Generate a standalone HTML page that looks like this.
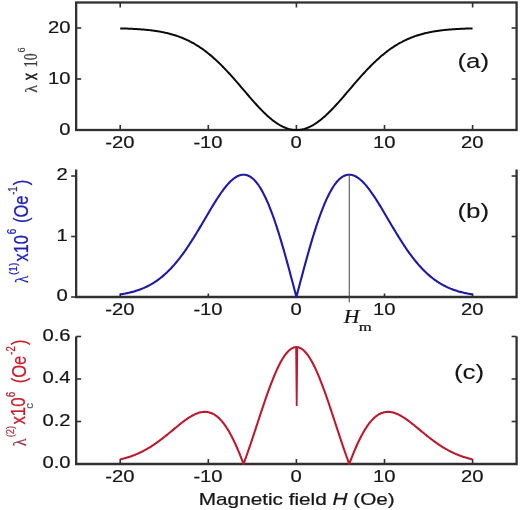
<!DOCTYPE html>
<html><head><meta charset="utf-8"><style>
html,body{margin:0;padding:0;background:#fff;}
svg{display:block;}
</style></head><body>
<svg width="520" height="510" viewBox="0 0 520 510">
<rect width="520" height="510" fill="#fff"/>
<rect x="76.15" y="2.5" width="440.45" height="127.5" fill="none" stroke="#303030" stroke-width="2.3"/>
<line x1="120.20" y1="130.00" x2="120.20" y2="125.00" stroke="#303030" stroke-width="1.6" />
<line x1="208.30" y1="130.00" x2="208.30" y2="125.00" stroke="#303030" stroke-width="1.6" />
<line x1="296.40" y1="130.00" x2="296.40" y2="125.00" stroke="#303030" stroke-width="1.6" />
<line x1="384.50" y1="130.00" x2="384.50" y2="125.00" stroke="#303030" stroke-width="1.6" />
<line x1="472.60" y1="130.00" x2="472.60" y2="125.00" stroke="#303030" stroke-width="1.6" />
<line x1="120.20" y1="2.50" x2="120.20" y2="7.50" stroke="#303030" stroke-width="1.6" />
<line x1="296.40" y1="2.50" x2="296.40" y2="7.50" stroke="#303030" stroke-width="1.6" />
<line x1="472.60" y1="2.50" x2="472.60" y2="7.50" stroke="#303030" stroke-width="1.6" />
<line x1="76.15" y1="130.00" x2="81.15" y2="130.00" stroke="#303030" stroke-width="1.6" />
<line x1="516.60" y1="130.00" x2="511.60" y2="130.00" stroke="#303030" stroke-width="1.6" />
<line x1="76.15" y1="79.00" x2="81.15" y2="79.00" stroke="#303030" stroke-width="1.6" />
<line x1="516.60" y1="79.00" x2="511.60" y2="79.00" stroke="#303030" stroke-width="1.6" />
<line x1="76.15" y1="28.00" x2="81.15" y2="28.00" stroke="#303030" stroke-width="1.6" />
<line x1="516.60" y1="28.00" x2="511.60" y2="28.00" stroke="#303030" stroke-width="1.6" />
<polyline points="76.15,169.6 76.15,297.0 516.6,297.0 516.6,169.6" fill="none" stroke="#303030" stroke-width="2.3"/>
<line x1="120.20" y1="297.00" x2="120.20" y2="293.50" stroke="#303030" stroke-width="1.6" />
<line x1="208.30" y1="297.00" x2="208.30" y2="293.50" stroke="#303030" stroke-width="1.6" />
<line x1="296.40" y1="297.00" x2="296.40" y2="293.50" stroke="#303030" stroke-width="1.6" />
<line x1="384.50" y1="297.00" x2="384.50" y2="293.50" stroke="#303030" stroke-width="1.6" />
<line x1="472.60" y1="297.00" x2="472.60" y2="293.50" stroke="#303030" stroke-width="1.6" />
<line x1="76.15" y1="297.00" x2="71.15" y2="297.00" stroke="#303030" stroke-width="1.6" />
<line x1="516.60" y1="297.00" x2="511.60" y2="297.00" stroke="#303030" stroke-width="1.6" />
<line x1="76.15" y1="236.51" x2="71.15" y2="236.51" stroke="#303030" stroke-width="1.6" />
<line x1="516.60" y1="236.51" x2="511.60" y2="236.51" stroke="#303030" stroke-width="1.6" />
<line x1="76.15" y1="176.01" x2="71.15" y2="176.01" stroke="#303030" stroke-width="1.6" />
<line x1="516.60" y1="176.01" x2="511.60" y2="176.01" stroke="#303030" stroke-width="1.6" />
<polyline points="76.15,336.5 76.15,464.0 516.6,464.0 516.6,336.5" fill="none" stroke="#303030" stroke-width="2.3"/>
<line x1="120.20" y1="464.00" x2="120.20" y2="459.00" stroke="#303030" stroke-width="1.6" />
<line x1="208.30" y1="464.00" x2="208.30" y2="459.00" stroke="#303030" stroke-width="1.6" />
<line x1="296.40" y1="464.00" x2="296.40" y2="459.00" stroke="#303030" stroke-width="1.6" />
<line x1="384.50" y1="464.00" x2="384.50" y2="459.00" stroke="#303030" stroke-width="1.6" />
<line x1="472.60" y1="464.00" x2="472.60" y2="459.00" stroke="#303030" stroke-width="1.6" />
<line x1="76.15" y1="464.00" x2="81.15" y2="464.00" stroke="#303030" stroke-width="1.6" />
<line x1="516.60" y1="464.00" x2="511.60" y2="464.00" stroke="#303030" stroke-width="1.6" />
<line x1="76.15" y1="421.50" x2="81.15" y2="421.50" stroke="#303030" stroke-width="1.6" />
<line x1="516.60" y1="421.50" x2="511.60" y2="421.50" stroke="#303030" stroke-width="1.6" />
<line x1="76.15" y1="379.00" x2="81.15" y2="379.00" stroke="#303030" stroke-width="1.6" />
<line x1="516.60" y1="379.00" x2="511.60" y2="379.00" stroke="#303030" stroke-width="1.6" />
<line x1="76.15" y1="336.50" x2="81.15" y2="336.50" stroke="#303030" stroke-width="1.6" />
<line x1="516.60" y1="336.50" x2="511.60" y2="336.50" stroke="#303030" stroke-width="1.6" />
<polyline points="120.20,28.39 121.08,28.42 121.96,28.44 122.84,28.47 123.72,28.49 124.60,28.52 125.49,28.55 126.37,28.58 127.25,28.61 128.13,28.64 129.01,28.68 129.89,28.71 130.77,28.75 131.65,28.79 132.53,28.84 133.41,28.88 134.30,28.93 135.18,28.97 136.06,29.02 136.94,29.08 137.82,29.13 138.70,29.19 139.58,29.25 140.46,29.31 141.34,29.38 142.22,29.45 143.11,29.52 143.99,29.60 144.87,29.68 145.75,29.76 146.63,29.84 147.51,29.93 148.39,30.02 149.27,30.12 150.15,30.22 151.03,30.33 151.92,30.43 152.80,30.55 153.68,30.66 154.56,30.79 155.44,30.91 156.32,31.05 157.20,31.18 158.08,31.33 158.96,31.47 159.84,31.63 160.73,31.79 161.61,31.95 162.49,32.12 163.37,32.30 164.25,32.48 165.13,32.67 166.01,32.87 166.89,33.07 167.77,33.28 168.65,33.50 169.54,33.73 170.42,33.96 171.30,34.20 172.18,34.45 173.06,34.70 173.94,34.97 174.82,35.24 175.70,35.52 176.58,35.82 177.46,36.12 178.35,36.42 179.23,36.74 180.11,37.07 180.99,37.41 181.87,37.75 182.75,38.11 183.63,38.48 184.51,38.86 185.39,39.25 186.27,39.64 187.16,40.05 188.04,40.47 188.92,40.91 189.80,41.35 190.68,41.80 191.56,42.27 192.44,42.75 193.32,43.24 194.20,43.74 195.08,44.25 195.97,44.78 196.85,45.31 197.73,45.86 198.61,46.43 199.49,47.00 200.37,47.59 201.25,48.19 202.13,48.80 203.01,49.42 203.89,50.06 204.78,50.71 205.66,51.37 206.54,52.05 207.42,52.73 208.30,53.43 209.18,54.15 210.06,54.87 210.94,55.61 211.82,56.36 212.70,57.12 213.59,57.90 214.47,58.68 215.35,59.48 216.23,60.29 217.11,61.11 217.99,61.95 218.87,62.79 219.75,63.65 220.63,64.52 221.51,65.39 222.40,66.28 223.28,67.18 224.16,68.09 225.04,69.01 225.92,69.93 226.80,70.87 227.68,71.81 228.56,72.77 229.44,73.73 230.32,74.70 231.21,75.68 232.09,76.66 232.97,77.65 233.85,78.64 234.73,79.65 235.61,80.65 236.49,81.66 237.37,82.68 238.25,83.70 239.13,84.72 240.02,85.75 240.90,86.78 241.78,87.80 242.66,88.84 243.54,89.87 244.42,90.90 245.30,91.93 246.18,92.96 247.06,93.98 247.94,95.01 248.83,96.03 249.71,97.05 250.59,98.06 251.47,99.07 252.35,100.08 253.23,101.08 254.11,102.07 254.99,103.05 255.87,104.03 256.75,104.99 257.64,105.95 258.52,106.90 259.40,107.84 260.28,108.76 261.16,109.68 262.04,110.58 262.92,111.46 263.80,112.34 264.68,113.20 265.56,114.04 266.45,114.87 267.33,115.68 268.21,116.48 269.09,117.26 269.97,118.01 270.85,118.76 271.73,119.48 272.61,120.18 273.49,120.86 274.38,121.52 275.26,122.16 276.14,122.77 277.02,123.37 277.90,123.94 278.78,124.49 279.66,125.01 280.54,125.51 281.42,125.99 282.30,126.44 283.19,126.86 284.07,127.26 284.95,127.63 285.83,127.98 286.71,128.30 287.59,128.59 288.47,128.86 289.35,129.10 290.23,129.31 291.11,129.49 292.00,129.65 292.88,129.77 293.76,129.87 294.64,129.94 295.52,129.99 296.40,130.00 297.28,129.99 298.16,129.94 299.04,129.87 299.92,129.77 300.80,129.65 301.69,129.49 302.57,129.31 303.45,129.10 304.33,128.86 305.21,128.59 306.09,128.30 306.97,127.98 307.85,127.63 308.73,127.26 309.61,126.86 310.50,126.44 311.38,125.99 312.26,125.51 313.14,125.01 314.02,124.49 314.90,123.94 315.78,123.37 316.66,122.77 317.54,122.16 318.42,121.52 319.31,120.86 320.19,120.18 321.07,119.48 321.95,118.76 322.83,118.01 323.71,117.26 324.59,116.48 325.47,115.68 326.35,114.87 327.23,114.04 328.12,113.20 329.00,112.34 329.88,111.46 330.76,110.58 331.64,109.68 332.52,108.76 333.40,107.84 334.28,106.90 335.16,105.95 336.04,104.99 336.93,104.03 337.81,103.05 338.69,102.07 339.57,101.08 340.45,100.08 341.33,99.07 342.21,98.06 343.09,97.05 343.97,96.03 344.85,95.01 345.74,93.98 346.62,92.96 347.50,91.93 348.38,90.90 349.26,89.87 350.14,88.84 351.02,87.80 351.90,86.78 352.78,85.75 353.66,84.72 354.55,83.70 355.43,82.68 356.31,81.66 357.19,80.65 358.07,79.65 358.95,78.64 359.83,77.65 360.71,76.66 361.59,75.68 362.47,74.70 363.36,73.73 364.24,72.77 365.12,71.81 366.00,70.87 366.88,69.93 367.76,69.01 368.64,68.09 369.52,67.18 370.40,66.28 371.28,65.39 372.17,64.52 373.05,63.65 373.93,62.79 374.81,61.95 375.69,61.11 376.57,60.29 377.45,59.48 378.33,58.68 379.21,57.90 380.09,57.12 380.98,56.36 381.86,55.61 382.74,54.87 383.62,54.15 384.50,53.43 385.38,52.73 386.26,52.05 387.14,51.37 388.02,50.71 388.90,50.06 389.79,49.42 390.67,48.80 391.55,48.19 392.43,47.59 393.31,47.00 394.19,46.43 395.07,45.86 395.95,45.31 396.83,44.78 397.71,44.25 398.60,43.74 399.48,43.24 400.36,42.75 401.24,42.27 402.12,41.80 403.00,41.35 403.88,40.91 404.76,40.47 405.64,40.05 406.52,39.64 407.41,39.25 408.29,38.86 409.17,38.48 410.05,38.11 410.93,37.75 411.81,37.41 412.69,37.07 413.57,36.74 414.45,36.42 415.33,36.12 416.22,35.82 417.10,35.52 417.98,35.24 418.86,34.97 419.74,34.70 420.62,34.45 421.50,34.20 422.38,33.96 423.26,33.73 424.14,33.50 425.03,33.28 425.91,33.07 426.79,32.87 427.67,32.67 428.55,32.48 429.43,32.30 430.31,32.12 431.19,31.95 432.07,31.79 432.95,31.63 433.84,31.47 434.72,31.33 435.60,31.18 436.48,31.05 437.36,30.91 438.24,30.79 439.12,30.66 440.00,30.55 440.88,30.43 441.76,30.33 442.65,30.22 443.53,30.12 444.41,30.02 445.29,29.93 446.17,29.84 447.05,29.76 447.93,29.68 448.81,29.60 449.69,29.52 450.57,29.45 451.46,29.38 452.34,29.31 453.22,29.25 454.10,29.19 454.98,29.13 455.86,29.08 456.74,29.02 457.62,28.97 458.50,28.93 459.38,28.88 460.27,28.84 461.15,28.79 462.03,28.75 462.91,28.71 463.79,28.68 464.67,28.64 465.55,28.61 466.43,28.58 467.31,28.55 468.19,28.52 469.08,28.49 469.96,28.47 470.84,28.44 471.72,28.42 472.60,28.39" fill="none" stroke="#0a0a0a" stroke-width="2" stroke-linejoin="round"/>
<polyline points="120.20,294.40 121.08,294.27 121.96,294.13 122.84,293.98 123.72,293.83 124.60,293.67 125.49,293.50 126.37,293.33 127.25,293.14 128.13,292.95 129.01,292.76 129.89,292.55 130.77,292.34 131.65,292.11 132.53,291.88 133.41,291.64 134.30,291.39 135.18,291.13 136.06,290.86 136.94,290.57 137.82,290.28 138.70,289.98 139.58,289.66 140.46,289.33 141.34,288.99 142.22,288.64 143.11,288.27 143.99,287.90 144.87,287.50 145.75,287.10 146.63,286.68 147.51,286.25 148.39,285.80 149.27,285.33 150.15,284.85 151.03,284.36 151.92,283.85 152.80,283.32 153.68,282.78 154.56,282.22 155.44,281.64 156.32,281.04 157.20,280.43 158.08,279.80 158.96,279.15 159.84,278.48 160.73,277.79 161.61,277.09 162.49,276.36 163.37,275.62 164.25,274.85 165.13,274.07 166.01,273.26 166.89,272.43 167.77,271.59 168.65,270.72 169.54,269.83 170.42,268.93 171.30,268.00 172.18,267.05 173.06,266.07 173.94,265.08 174.82,264.07 175.70,263.03 176.58,261.98 177.46,260.90 178.35,259.81 179.23,258.69 180.11,257.55 180.99,256.39 181.87,255.22 182.75,254.02 183.63,252.80 184.51,251.57 185.39,250.31 186.27,249.04 187.16,247.75 188.04,246.44 188.92,245.12 189.80,243.78 190.68,242.42 191.56,241.05 192.44,239.66 193.32,238.26 194.20,236.85 195.08,235.42 195.97,233.99 196.85,232.54 197.73,231.08 198.61,229.61 199.49,228.14 200.37,226.66 201.25,225.17 202.13,223.68 203.01,222.18 203.89,220.68 204.78,219.18 205.66,217.69 206.54,216.19 207.42,214.69 208.30,213.20 209.18,211.71 210.06,210.23 210.94,208.76 211.82,207.30 212.70,205.84 213.59,204.40 214.47,202.98 215.35,201.57 216.23,200.18 217.11,198.80 217.99,197.45 218.87,196.12 219.75,194.81 220.63,193.53 221.51,192.27 222.40,191.05 223.28,189.85 224.16,188.69 225.04,187.56 225.92,186.47 226.80,185.41 227.68,184.40 228.56,183.42 229.44,182.49 230.32,181.60 231.21,180.76 232.09,179.96 232.97,179.22 233.85,178.52 234.73,177.88 235.61,177.30 236.49,176.76 237.37,176.29 238.25,175.87 239.13,175.52 240.02,175.23 240.90,175.00 241.78,174.83 242.66,174.73 243.54,174.70 244.42,174.73 245.30,174.83 246.18,175.01 247.06,175.25 247.94,175.57 248.83,175.96 249.71,176.42 250.59,176.96 251.47,177.57 252.35,178.26 253.23,179.02 254.11,179.86 254.99,180.78 255.87,181.77 256.75,182.84 257.64,183.99 258.52,185.22 259.40,186.52 260.28,187.90 261.16,189.36 262.04,190.89 262.92,192.50 263.80,194.18 264.68,195.94 265.56,197.78 266.45,199.68 267.33,201.66 268.21,203.71 269.09,205.83 269.97,208.02 270.85,210.28 271.73,212.61 272.61,215.00 273.49,217.45 274.38,219.97 275.26,222.54 276.14,225.18 277.02,227.87 277.90,230.62 278.78,233.42 279.66,236.27 280.54,239.17 281.42,242.11 282.30,245.11 283.19,248.14 284.07,251.21 284.95,254.32 285.83,257.47 286.71,260.65 287.59,263.86 288.47,267.09 289.35,270.35 290.23,273.63 291.11,276.94 292.00,280.25 292.88,283.59 293.76,286.93 294.64,290.28 295.52,293.64 296.40,297.00 297.28,293.64 298.16,290.28 299.04,286.93 299.92,283.59 300.80,280.25 301.69,276.94 302.57,273.63 303.45,270.35 304.33,267.09 305.21,263.86 306.09,260.65 306.97,257.47 307.85,254.32 308.73,251.21 309.61,248.14 310.50,245.11 311.38,242.11 312.26,239.17 313.14,236.27 314.02,233.42 314.90,230.62 315.78,227.87 316.66,225.18 317.54,222.54 318.42,219.97 319.31,217.45 320.19,215.00 321.07,212.61 321.95,210.28 322.83,208.02 323.71,205.83 324.59,203.71 325.47,201.66 326.35,199.68 327.23,197.78 328.12,195.94 329.00,194.18 329.88,192.50 330.76,190.89 331.64,189.36 332.52,187.90 333.40,186.52 334.28,185.22 335.16,183.99 336.04,182.84 336.93,181.77 337.81,180.78 338.69,179.86 339.57,179.02 340.45,178.26 341.33,177.57 342.21,176.96 343.09,176.42 343.97,175.96 344.85,175.57 345.74,175.25 346.62,175.01 347.50,174.83 348.38,174.73 349.26,174.70 350.14,174.73 351.02,174.83 351.90,175.00 352.78,175.23 353.66,175.52 354.55,175.87 355.43,176.29 356.31,176.76 357.19,177.30 358.07,177.88 358.95,178.52 359.83,179.22 360.71,179.96 361.59,180.76 362.47,181.60 363.36,182.49 364.24,183.42 365.12,184.40 366.00,185.41 366.88,186.47 367.76,187.56 368.64,188.69 369.52,189.85 370.40,191.05 371.28,192.27 372.17,193.53 373.05,194.81 373.93,196.12 374.81,197.45 375.69,198.80 376.57,200.18 377.45,201.57 378.33,202.98 379.21,204.40 380.09,205.84 380.98,207.30 381.86,208.76 382.74,210.23 383.62,211.71 384.50,213.20 385.38,214.69 386.26,216.19 387.14,217.69 388.02,219.18 388.90,220.68 389.79,222.18 390.67,223.68 391.55,225.17 392.43,226.66 393.31,228.14 394.19,229.61 395.07,231.08 395.95,232.54 396.83,233.99 397.71,235.42 398.60,236.85 399.48,238.26 400.36,239.66 401.24,241.05 402.12,242.42 403.00,243.78 403.88,245.12 404.76,246.44 405.64,247.75 406.52,249.04 407.41,250.31 408.29,251.57 409.17,252.80 410.05,254.02 410.93,255.22 411.81,256.39 412.69,257.55 413.57,258.69 414.45,259.81 415.33,260.90 416.22,261.98 417.10,263.03 417.98,264.07 418.86,265.08 419.74,266.07 420.62,267.05 421.50,268.00 422.38,268.93 423.26,269.83 424.14,270.72 425.03,271.59 425.91,272.43 426.79,273.26 427.67,274.07 428.55,274.85 429.43,275.62 430.31,276.36 431.19,277.09 432.07,277.79 432.95,278.48 433.84,279.15 434.72,279.80 435.60,280.43 436.48,281.04 437.36,281.64 438.24,282.22 439.12,282.78 440.00,283.32 440.88,283.85 441.76,284.36 442.65,284.85 443.53,285.33 444.41,285.80 445.29,286.25 446.17,286.68 447.05,287.10 447.93,287.50 448.81,287.90 449.69,288.27 450.57,288.64 451.46,288.99 452.34,289.33 453.22,289.66 454.10,289.98 454.98,290.28 455.86,290.57 456.74,290.86 457.62,291.13 458.50,291.39 459.38,291.64 460.27,291.88 461.15,292.11 462.03,292.34 462.91,292.55 463.79,292.76 464.67,292.95 465.55,293.14 466.43,293.33 467.31,293.50 468.19,293.67 469.08,293.83 469.96,293.98 470.84,294.13 471.72,294.27 472.60,294.40" fill="none" stroke="#1e1aa4" stroke-width="2.1" stroke-linejoin="round"/>
<polyline points="120.20,459.43 121.08,459.22 121.96,459.01 122.84,458.79 123.72,458.56 124.60,458.32 125.49,458.07 126.37,457.81 127.25,457.55 128.13,457.27 129.01,456.99 129.89,456.70 130.77,456.39 131.65,456.08 132.53,455.76 133.41,455.43 134.30,455.09 135.18,454.73 136.06,454.37 136.94,454.00 137.82,453.61 138.70,453.22 139.58,452.81 140.46,452.40 141.34,451.97 142.22,451.53 143.11,451.08 143.99,450.62 144.87,450.14 145.75,449.66 146.63,449.16 147.51,448.66 148.39,448.14 149.27,447.61 150.15,447.07 151.03,446.52 151.92,445.95 152.80,445.38 153.68,444.80 154.56,444.20 155.44,443.60 156.32,442.98 157.20,442.36 158.08,441.72 158.96,441.08 159.84,440.43 160.73,439.77 161.61,439.10 162.49,438.42 163.37,437.73 164.25,437.04 165.13,436.34 166.01,435.64 166.89,434.93 167.77,434.21 168.65,433.49 169.54,432.77 170.42,432.05 171.30,431.32 172.18,430.59 173.06,429.86 173.94,429.13 174.82,428.40 175.70,427.67 176.58,426.95 177.46,426.22 178.35,425.51 179.23,424.80 180.11,424.09 180.99,423.39 181.87,422.71 182.75,422.03 183.63,421.36 184.51,420.70 185.39,420.06 186.27,419.43 187.16,418.82 188.04,418.22 188.92,417.64 189.80,417.09 190.68,416.55 191.56,416.03 192.44,415.54 193.32,415.07 194.20,414.63 195.08,414.21 195.97,413.83 196.85,413.47 197.73,413.15 198.61,412.86 199.49,412.60 200.37,412.38 201.25,412.19 202.13,412.04 203.01,411.94 203.89,411.87 204.78,411.84 205.66,411.86 206.54,411.93 207.42,412.03 208.30,412.19 209.18,412.39 210.06,412.65 210.94,412.95 211.82,413.31 212.70,413.71 213.59,414.18 214.47,414.69 215.35,415.26 216.23,415.89 217.11,416.57 217.99,417.31 218.87,418.11 219.75,418.97 220.63,419.88 221.51,420.86 222.40,421.89 223.28,422.98 224.16,424.14 225.04,425.35 225.92,426.63 226.80,427.96 227.68,429.36 228.56,430.81 229.44,432.33 230.32,433.90 231.21,435.53 232.09,437.22 232.97,438.97 233.85,440.77 234.73,442.63 235.61,444.54 236.49,446.51 237.37,448.53 238.25,450.60 239.13,452.72 240.02,454.88 240.90,457.10 241.78,459.36 242.66,461.66 243.54,464.00 244.42,461.62 245.30,459.20 246.18,456.74 247.06,454.26 247.94,451.74 248.83,449.19 249.71,446.62 250.59,444.02 251.47,441.40 252.35,438.76 253.23,436.11 254.11,433.45 254.99,430.77 255.87,428.09 256.75,425.40 257.64,422.71 258.52,420.03 259.40,417.35 260.28,414.67 261.16,412.01 262.04,409.36 262.92,406.72 263.80,404.11 264.68,401.52 265.56,398.96 266.45,396.42 267.33,393.92 268.21,391.46 269.09,389.03 269.97,386.64 270.85,384.30 271.73,382.01 272.61,379.77 273.49,377.58 274.38,375.45 275.26,373.37 276.14,371.36 277.02,369.41 277.90,367.54 278.78,365.73 279.66,363.99 280.54,362.32 281.42,360.74 282.30,359.23 283.19,357.80 284.07,356.46 284.95,355.20 285.83,354.02 286.71,352.94 287.59,351.94 288.47,351.03 289.35,350.22 290.23,349.50 291.11,348.87 292.00,348.34 292.88,347.90 293.76,347.56 294.64,347.32 295.52,347.17 296.40,347.12 297.28,347.17 298.16,347.32 299.04,347.56 299.92,347.90 300.80,348.34 301.69,348.87 302.57,349.50 303.45,350.22 304.33,351.03 305.21,351.94 306.09,352.94 306.97,354.02 307.85,355.20 308.73,356.46 309.61,357.80 310.50,359.23 311.38,360.74 312.26,362.32 313.14,363.99 314.02,365.73 314.90,367.54 315.78,369.41 316.66,371.36 317.54,373.37 318.42,375.45 319.31,377.58 320.19,379.77 321.07,382.01 321.95,384.30 322.83,386.64 323.71,389.03 324.59,391.46 325.47,393.92 326.35,396.42 327.23,398.96 328.12,401.52 329.00,404.11 329.88,406.72 330.76,409.36 331.64,412.01 332.52,414.67 333.40,417.35 334.28,420.03 335.16,422.71 336.04,425.40 336.93,428.09 337.81,430.77 338.69,433.45 339.57,436.11 340.45,438.76 341.33,441.40 342.21,444.02 343.09,446.62 343.97,449.19 344.85,451.74 345.74,454.26 346.62,456.74 347.50,459.20 348.38,461.62 349.26,464.00 350.14,461.66 351.02,459.36 351.90,457.10 352.78,454.88 353.66,452.72 354.55,450.60 355.43,448.53 356.31,446.51 357.19,444.54 358.07,442.63 358.95,440.77 359.83,438.97 360.71,437.22 361.59,435.53 362.47,433.90 363.36,432.33 364.24,430.81 365.12,429.36 366.00,427.96 366.88,426.63 367.76,425.35 368.64,424.14 369.52,422.98 370.40,421.89 371.28,420.86 372.17,419.88 373.05,418.97 373.93,418.11 374.81,417.31 375.69,416.57 376.57,415.89 377.45,415.26 378.33,414.69 379.21,414.18 380.09,413.71 380.98,413.31 381.86,412.95 382.74,412.65 383.62,412.39 384.50,412.19 385.38,412.03 386.26,411.93 387.14,411.86 388.02,411.84 388.90,411.87 389.79,411.94 390.67,412.04 391.55,412.19 392.43,412.38 393.31,412.60 394.19,412.86 395.07,413.15 395.95,413.47 396.83,413.83 397.71,414.21 398.60,414.63 399.48,415.07 400.36,415.54 401.24,416.03 402.12,416.55 403.00,417.09 403.88,417.64 404.76,418.22 405.64,418.82 406.52,419.43 407.41,420.06 408.29,420.70 409.17,421.36 410.05,422.03 410.93,422.71 411.81,423.39 412.69,424.09 413.57,424.80 414.45,425.51 415.33,426.22 416.22,426.95 417.10,427.67 417.98,428.40 418.86,429.13 419.74,429.86 420.62,430.59 421.50,431.32 422.38,432.05 423.26,432.77 424.14,433.49 425.03,434.21 425.91,434.93 426.79,435.64 427.67,436.34 428.55,437.04 429.43,437.73 430.31,438.42 431.19,439.10 432.07,439.77 432.95,440.43 433.84,441.08 434.72,441.72 435.60,442.36 436.48,442.98 437.36,443.60 438.24,444.20 439.12,444.80 440.00,445.38 440.88,445.95 441.76,446.52 442.65,447.07 443.53,447.61 444.41,448.14 445.29,448.66 446.17,449.16 447.05,449.66 447.93,450.14 448.81,450.62 449.69,451.08 450.57,451.53 451.46,451.97 452.34,452.40 453.22,452.81 454.10,453.22 454.98,453.61 455.86,454.00 456.74,454.37 457.62,454.73 458.50,455.09 459.38,455.43 460.27,455.76 461.15,456.08 462.03,456.39 462.91,456.70 463.79,456.99 464.67,457.27 465.55,457.55 466.43,457.81 467.31,458.07 468.19,458.32 469.08,458.56 469.96,458.79 470.84,459.01 471.72,459.22 472.60,459.43" fill="none" stroke="#bb1b30" stroke-width="2.1" stroke-linejoin="round"/>
<line x1="349.26" y1="174.70" x2="349.26" y2="302.40" stroke="#444" stroke-width="1" />
<polygon points="295.20,347.12 298.20,347.12 297.60,405.20 296.70,406.20 295.80,405.20" fill="#bb1b30"/>
<text transform="translate(119.90,148.00) scale(1.19,1)" font-family="'Liberation Sans', sans-serif" font-size="17.0" text-anchor="middle" fill="#151515" stroke="#151515" stroke-width="0.22" >-20</text>
<text transform="translate(208.00,148.00) scale(1.19,1)" font-family="'Liberation Sans', sans-serif" font-size="17.0" text-anchor="middle" fill="#151515" stroke="#151515" stroke-width="0.22" >-10</text>
<text transform="translate(296.10,148.00) scale(1.19,1)" font-family="'Liberation Sans', sans-serif" font-size="17.0" text-anchor="middle" fill="#151515" stroke="#151515" stroke-width="0.22" >0</text>
<text transform="translate(384.20,148.00) scale(1.19,1)" font-family="'Liberation Sans', sans-serif" font-size="17.0" text-anchor="middle" fill="#151515" stroke="#151515" stroke-width="0.22" >10</text>
<text transform="translate(472.30,148.00) scale(1.19,1)" font-family="'Liberation Sans', sans-serif" font-size="17.0" text-anchor="middle" fill="#151515" stroke="#151515" stroke-width="0.22" >20</text>
<text transform="translate(119.90,315.00) scale(1.19,1)" font-family="'Liberation Sans', sans-serif" font-size="17.0" text-anchor="middle" fill="#151515" stroke="#151515" stroke-width="0.22" >-20</text>
<text transform="translate(208.00,315.00) scale(1.19,1)" font-family="'Liberation Sans', sans-serif" font-size="17.0" text-anchor="middle" fill="#151515" stroke="#151515" stroke-width="0.22" >-10</text>
<text transform="translate(296.10,315.00) scale(1.19,1)" font-family="'Liberation Sans', sans-serif" font-size="17.0" text-anchor="middle" fill="#151515" stroke="#151515" stroke-width="0.22" >0</text>
<text transform="translate(384.20,315.00) scale(1.19,1)" font-family="'Liberation Sans', sans-serif" font-size="17.0" text-anchor="middle" fill="#151515" stroke="#151515" stroke-width="0.22" >10</text>
<text transform="translate(472.30,315.00) scale(1.19,1)" font-family="'Liberation Sans', sans-serif" font-size="17.0" text-anchor="middle" fill="#151515" stroke="#151515" stroke-width="0.22" >20</text>
<text transform="translate(119.90,482.00) scale(1.19,1)" font-family="'Liberation Sans', sans-serif" font-size="17.0" text-anchor="middle" fill="#151515" stroke="#151515" stroke-width="0.22" >-20</text>
<text transform="translate(208.00,482.00) scale(1.19,1)" font-family="'Liberation Sans', sans-serif" font-size="17.0" text-anchor="middle" fill="#151515" stroke="#151515" stroke-width="0.22" >-10</text>
<text transform="translate(296.10,482.00) scale(1.19,1)" font-family="'Liberation Sans', sans-serif" font-size="17.0" text-anchor="middle" fill="#151515" stroke="#151515" stroke-width="0.22" >0</text>
<text transform="translate(384.20,482.00) scale(1.19,1)" font-family="'Liberation Sans', sans-serif" font-size="17.0" text-anchor="middle" fill="#151515" stroke="#151515" stroke-width="0.22" >10</text>
<text transform="translate(472.30,482.00) scale(1.19,1)" font-family="'Liberation Sans', sans-serif" font-size="17.0" text-anchor="middle" fill="#151515" stroke="#151515" stroke-width="0.22" >20</text>
<text transform="translate(70.40,134.50) scale(1.19,1)" font-family="'Liberation Sans', sans-serif" font-size="17.0" text-anchor="end" fill="#151515" stroke="#151515" stroke-width="0.22" >0</text>
<text transform="translate(70.40,83.50) scale(1.19,1)" font-family="'Liberation Sans', sans-serif" font-size="17.0" text-anchor="end" fill="#151515" stroke="#151515" stroke-width="0.22" >10</text>
<text transform="translate(70.40,32.50) scale(1.19,1)" font-family="'Liberation Sans', sans-serif" font-size="17.0" text-anchor="end" fill="#151515" stroke="#151515" stroke-width="0.22" >20</text>
<text transform="translate(67.80,301.20) scale(1.19,1)" font-family="'Liberation Sans', sans-serif" font-size="17.0" text-anchor="end" fill="#151515" stroke="#151515" stroke-width="0.22" >0</text>
<text transform="translate(67.80,240.71) scale(1.19,1)" font-family="'Liberation Sans', sans-serif" font-size="17.0" text-anchor="end" fill="#151515" stroke="#151515" stroke-width="0.22" >1</text>
<text transform="translate(67.80,180.21) scale(1.19,1)" font-family="'Liberation Sans', sans-serif" font-size="17.0" text-anchor="end" fill="#151515" stroke="#151515" stroke-width="0.22" >2</text>
<text transform="translate(70.50,468.40) scale(1.19,1)" font-family="'Liberation Sans', sans-serif" font-size="17.0" text-anchor="end" fill="#151515" stroke="#151515" stroke-width="0.22" >0.0</text>
<text transform="translate(70.50,425.90) scale(1.19,1)" font-family="'Liberation Sans', sans-serif" font-size="17.0" text-anchor="end" fill="#151515" stroke="#151515" stroke-width="0.22" >0.2</text>
<text transform="translate(70.50,383.40) scale(1.19,1)" font-family="'Liberation Sans', sans-serif" font-size="17.0" text-anchor="end" fill="#151515" stroke="#151515" stroke-width="0.22" >0.4</text>
<text transform="translate(70.50,340.90) scale(1.19,1)" font-family="'Liberation Sans', sans-serif" font-size="17.0" text-anchor="end" fill="#151515" stroke="#151515" stroke-width="0.22" >0.6</text>
<text transform="translate(457.40,68.10) scale(1.28,1)" font-family="'Liberation Sans', sans-serif" font-size="20.3" text-anchor="start" fill="#151515" stroke="#151515" stroke-width="0.1" >(a)</text>
<text transform="translate(457.40,217.90) scale(1.28,1)" font-family="'Liberation Sans', sans-serif" font-size="20.3" text-anchor="start" fill="#151515" stroke="#151515" stroke-width="0.1" >(b)</text>
<text transform="translate(453.90,378.70) scale(1.28,1)" font-family="'Liberation Sans', sans-serif" font-size="20.3" text-anchor="start" fill="#151515" stroke="#151515" stroke-width="0.1" >(c)</text>
<text transform="scale(1.104,1)" x="311.34" y="322.60" font-family="'Liberation Serif', serif" font-style="italic" font-size="19.69" fill="#151515" stroke="#151515" stroke-width="0.22" >H</text>
<text transform="scale(1.427,1)" x="251.39" y="331.10" font-family="'Liberation Serif', serif" font-size="11.70" fill="#151515" stroke="#151515" stroke-width="0.22" >m</text>
<text transform="translate(198.8,504.7) scale(1.297,1)" font-family="'Liberation Sans', sans-serif" font-size="16" fill="#151515" stroke="#151515" stroke-width="0.22">Magnetic field <tspan font-style="italic">H</tspan> (Oe)</text>
<text transform="scale(1.046,1) rotate(-90)" x="-92.64" y="34.98" font-family="'Liberation Serif', serif" font-size="16.13" fill="#3a3a3a" stroke="#3a3a3a" stroke-width="0.22" >λ</text>
<text transform="scale(1.468,1) rotate(-90)" x="-80.07" y="24.92" font-family="'Liberation Sans', sans-serif" font-size="13.68" fill="#1a1a1a" stroke="#1a1a1a" stroke-width="0.22" style="stroke-width:0.45">x</text>
<text transform="scale(1.307,1) rotate(-90)" x="-67.20" y="28.25" font-family="'Liberation Serif', serif" font-size="13.71" fill="#3a3a3a" stroke="#3a3a3a" stroke-width="0.22" >10</text>
<text transform="scale(1.075,1) rotate(-90)" x="-52.52" y="23.54" font-family="'Liberation Serif', serif" font-size="9.82" fill="#3a3a3a" stroke="#3a3a3a" stroke-width="0.22" >6</text>
<text transform="scale(1.208,1) rotate(-90)" x="-282.91" y="23.51" font-family="'Liberation Serif', serif" font-size="15.03" fill="#2020b4" stroke="#2020b4" stroke-width="0.22" >λ</text>
<text transform="scale(1.135,1) rotate(-90)" x="-275.03" y="14.56" font-family="'Liberation Sans', sans-serif" font-size="10.11" fill="#2020b4" stroke="#2020b4" stroke-width="0.22" >(1)</text>
<text transform="scale(1.241,1) rotate(-90)" x="-261.50" y="22.39" font-family="'Liberation Sans', sans-serif" font-size="16.28" fill="#2020b4" stroke="#2020b4" stroke-width="0.22" >x10</text>
<text transform="scale(1.212,1) rotate(-90)" x="-234.19" y="13.60" font-family="'Liberation Sans', sans-serif" font-size="9.80" fill="#2020b4" stroke="#2020b4" stroke-width="0.22" >6</text>
<text transform="scale(1.222,1) rotate(-90)" x="-223.03" y="22.70" font-family="'Liberation Sans', sans-serif" font-size="16.41" fill="#2020b4" stroke="#2020b4" stroke-width="0.22" >(Oe</text>
<text transform="scale(1.317,1) rotate(-90)" x="-194.83" y="12.76" font-family="'Liberation Sans', sans-serif" font-size="9.50" fill="#33337a" stroke="#33337a" stroke-width="0.22" >-1</text>
<text transform="scale(1.229,1) rotate(-90)" x="-185.32" y="22.55" font-family="'Liberation Sans', sans-serif" font-size="16.40" fill="#2020b4" stroke="#2020b4" stroke-width="0.22" >)</text>
<text transform="scale(1.169,1) rotate(-90)" x="-446.14" y="22.23" font-family="'Liberation Serif', serif" font-size="16.13" fill="#8a3444" stroke="#8a3444" stroke-width="0.22" >λ</text>
<text transform="scale(1.223,1) rotate(-90)" x="-437.28" y="11.40" font-family="'Liberation Sans', sans-serif" font-size="9.29" fill="#a04050" stroke="#a04050" stroke-width="0.22" >(2)</text>
<text transform="scale(1.232,1) rotate(-90)" x="-424.61" y="20.60" font-family="'Liberation Sans', sans-serif" font-size="16.86" fill="#c81e2c" stroke="#c81e2c" stroke-width="0.22" >x10</text>
<text transform="scale(1.314,1) rotate(-90)" x="-397.20" y="11.24" font-family="'Liberation Sans', sans-serif" font-size="10.00" fill="#b02838" stroke="#b02838" stroke-width="0.22" >6</text>
<text transform="scale(1.016,1) rotate(-90)" x="-408.69" y="32.74" font-family="'Liberation Sans', sans-serif" font-size="11.50" fill="#606060" stroke="#606060" stroke-width="0.22" >c</text>
<text transform="scale(1.195,1) rotate(-90)" x="-383.34" y="21.74" font-family="'Liberation Sans', sans-serif" font-size="16.60" fill="#c81e2c" stroke="#c81e2c" stroke-width="0.22" >(Oe</text>
<text transform="scale(1.313,1) rotate(-90)" x="-354.73" y="11.35" font-family="'Liberation Sans', sans-serif" font-size="9.50" fill="#c81e2c" stroke="#c81e2c" stroke-width="0.22" >-2</text>
<text transform="scale(1.163,1) rotate(-90)" x="-345.12" y="22.44" font-family="'Liberation Sans', sans-serif" font-size="16.60" fill="#c81e2c" stroke="#c81e2c" stroke-width="0.22" >)</text>
</svg>
</body></html>
